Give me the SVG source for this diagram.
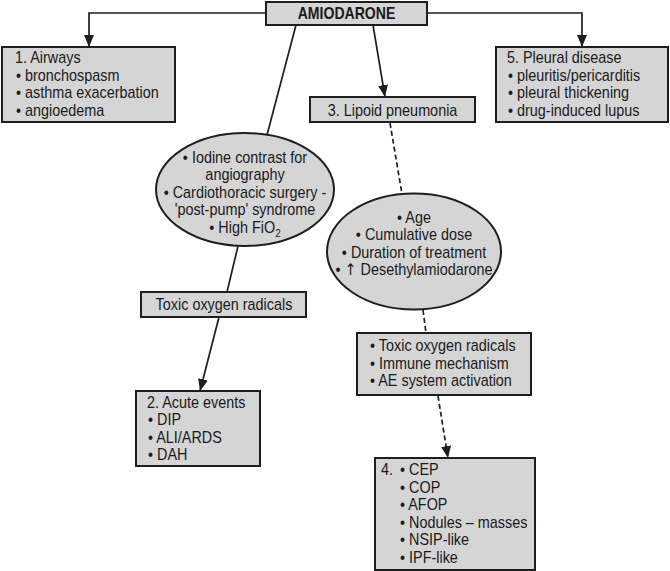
<svg xmlns="http://www.w3.org/2000/svg" width="670" height="571" viewBox="0 0 670 571">
<defs>
<style>
.box{fill:#d5d5d5;stroke:#1e1e1e;stroke-width:2}
.t{font-family:"Liberation Sans",Arial,sans-serif;font-size:16px;fill:#1a1a1a}
.c{text-anchor:middle}
.b{font-weight:bold;font-size:16px}
.ln{fill:none;stroke:#1e1e1e;stroke-width:1.7}
.dash{stroke-dasharray:5 3}
</style>
<marker id="ah" viewBox="0 0 12 10" refX="12" refY="5" markerWidth="12" markerHeight="10" markerUnits="userSpaceOnUse" orient="auto">
<path d="M0,0 L12,5 L0,10 z" fill="#1e1e1e"/>
</marker>
</defs>
<rect width="670" height="571" fill="#ffffff"/>

<g id="connectors">
<path class="ln" d="M266,13 H89 V47" marker-end="url(#ah)"/>
<path class="ln" d="M427,13 H582 V47" marker-end="url(#ah)"/>
<path class="ln" d="M373,25 L385,97" marker-end="url(#ah)"/>
<path class="ln" d="M296,25 L267,135"/>
<path class="ln" d="M238,246 L227,292"/>
<path class="ln" d="M219,317 L200,391" marker-end="url(#ah)"/>
<path class="ln dash" d="M390,123 L402,194"/>
<path class="ln dash" d="M423,310 L426,333"/>
<path class="ln dash" d="M438,396 L448,458" marker-end="url(#ah)"/>
</g>

<g id="amiodarone">
<rect class="box" x="266" y="2" width="161" height="23"/>
<text class="t c b" transform="translate(346.5,19) scale(0.88,1)">AMIODARONE</text>
</g>

<g id="airways">
<rect class="box" x="2" y="47" width="173" height="75"/>
<text class="t" transform="translate(15,63) scale(0.9,1)">1. Airways</text>
<text class="t" transform="translate(16,80.5) scale(0.9,1)">• bronchospasm</text>
<text class="t" transform="translate(16,98) scale(0.9,1)">• asthma exacerbation</text>
<text class="t" transform="translate(16,115.5) scale(0.9,1)">• angioedema</text>
</g>

<g id="pleural">
<rect class="box" x="496" y="47" width="172" height="75"/>
<text class="t" transform="translate(507,63) scale(0.9,1)">5. Pleural disease</text>
<text class="t" transform="translate(508,80.5) scale(0.9,1)">• pleuritis/pericarditis</text>
<text class="t" transform="translate(508,98) scale(0.9,1)">• pleural thickening</text>
<text class="t" transform="translate(508,115.5) scale(0.9,1)">• drug-induced lupus</text>
</g>

<g id="lipoid">
<rect class="box" x="310" y="97" width="165" height="25"/>
<text class="t c" transform="translate(392.5,115.5) scale(0.9,1)">3. Lipoid pneumonia</text>
</g>

<g id="ellipse1">
<ellipse class="box" cx="245" cy="189.5" rx="89" ry="56.5"/>
<text class="t c" transform="translate(245,162.5) scale(0.9,1)">• Iodine contrast for</text>
<text class="t c" transform="translate(245,180) scale(0.9,1)">angiography</text>
<text class="t c" transform="translate(245,197.5) scale(0.9,1)">• Cardiothoracic surgery -</text>
<text class="t c" transform="translate(245,215) scale(0.9,1)">'post-pump' syndrome</text>
<text class="t c" transform="translate(245,232.5) scale(0.9,1)">• High FiO<tspan font-size="11" dy="4">2</tspan></text>
</g>

<g id="ellipse2">
<ellipse class="box" cx="414" cy="251.5" rx="87" ry="58"/>
<text class="t c" transform="translate(414,222.5) scale(0.9,1)">• Age</text>
<text class="t c" transform="translate(414,240) scale(0.9,1)">• Cumulative dose</text>
<text class="t c" transform="translate(414,257.5) scale(0.9,1)">• Duration of treatment</text>
<text class="t c" transform="translate(414,275) scale(0.9,1)">• <tspan font-family="'DejaVu Sans',sans-serif">↑</tspan> Desethylamiodarone</text>
</g>

<g id="toxic1">
<rect class="box" x="141" y="292" width="165" height="25"/>
<text class="t c" transform="translate(224,310) scale(0.9,1)">Toxic oxygen radicals</text>
</g>

<g id="acute">
<rect class="box" x="136" y="391" width="124" height="75"/>
<text class="t" transform="translate(147,407.5) scale(0.9,1)">2. Acute events</text>
<text class="t" transform="translate(148,425) scale(0.9,1)">• DIP</text>
<text class="t" transform="translate(148,442.5) scale(0.9,1)">• ALI/ARDS</text>
<text class="t" transform="translate(148,460) scale(0.9,1)">• DAH</text>
</g>

<g id="mechanisms">
<rect class="box" x="357" y="333" width="174" height="62"/>
<text class="t" transform="translate(370,351) scale(0.9,1)">• Toxic oxygen radicals</text>
<text class="t" transform="translate(370,368.5) scale(0.9,1)">• Immune mechanism</text>
<text class="t" transform="translate(370,386) scale(0.9,1)">• AE system activation</text>
</g>

<g id="chronic">
<rect class="box" x="375" y="458" width="160" height="112"/>
<text class="t" transform="translate(381,475) scale(0.9,1)">4.</text>
<text class="t" transform="translate(400,475) scale(0.9,1)">• CEP</text>
<text class="t" transform="translate(400,492.5) scale(0.9,1)">• COP</text>
<text class="t" transform="translate(400,510) scale(0.9,1)">• AFOP</text>
<text class="t" transform="translate(400,527.5) scale(0.9,1)">• Nodules – masses</text>
<text class="t" transform="translate(400,545) scale(0.9,1)">• NSIP-like</text>
<text class="t" transform="translate(400,562.5) scale(0.9,1)">• IPF-like</text>
</g>
</svg>
